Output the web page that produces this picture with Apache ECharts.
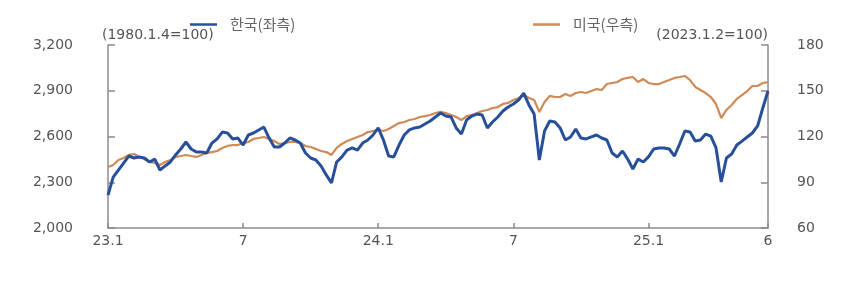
<!DOCTYPE html>
<html>
<head>
<meta charset="utf-8">
<script src="https://cdn.jsdelivr.net/npm/echarts@6/dist/echarts.min.js"></script>
<style>
html,body{margin:0;padding:0;background:#fff;}
#chart{width:860px;height:285px;}
</style>
</head>
<body>
<div id="chart"></div>
<script>
// Weekly observations starting 2023-01-02
const startDate = '2023-01-02';

// KOSPI (left axis, 1980.1.4=100)
const koreaIndex = [
  2216,2334,2380,2426,2472,2459,2466,2459,2433,2452,
  2380,2407,2433,2479,2518,2564,2518,2498,2498,2492,
  2557,2584,2629,2623,2584,2590,2544,2610,2623,2643,
  2662,2590,2531,2531,2557,2590,2577,2557,2492,2459,
  2446,2407,2348,2295,2433,2466,2511,2525,2511,2557,
  2577,2610,2656,2577,2472,2466,2544,2610,2643,2656,
  2662,2682,2702,2728,2754,2734,2728,2656,2616,2708,
  2734,2747,2741,2656,2695,2728,2767,2793,2813,2839,
  2885,2807,2747,2446,2636,2702,2695,2656,2577,2597,
  2649,2590,2584,2597,2610,2590,2577,2492,2466,2505,
  2452,2387,2452,2433,2466,2518,2525,2525,2518,2472,
  2551,2636,2629,2570,2577,2616,2603,2525,2302,2459,
  2485,2544,2570,2597,2623,2669,2787,2898
];

// S&P 500 (right axis, 2023.1.2=100)
const usIndex = [
  100.0,101.3,104.6,105.9,107.9,108.5,106.6,105.2,103.3,102.6,
  101.3,103.3,104.6,106.6,107.2,107.9,107.2,106.6,107.9,109.2,
  109.8,110.5,112.5,113.8,114.4,114.4,115.7,116.4,118.4,119.0,
  119.7,118.4,117.0,115.1,115.7,116.4,116.4,115.7,113.8,113.1,
  111.8,110.5,109.8,107.9,112.5,115.1,117.0,118.4,119.7,121.0,
  122.9,123.6,124.3,123.6,124.9,126.9,128.8,129.5,130.8,131.5,
  132.8,133.4,134.1,135.4,136.1,135.4,134.1,132.8,130.8,133.4,
  134.1,135.4,136.7,137.4,138.7,139.3,141.3,142.0,143.9,145.2,
  147.2,145.2,143.9,136.1,142.6,146.6,145.9,145.9,147.9,146.6,
  148.5,149.2,148.5,149.8,151.1,150.5,154.4,155.1,155.7,157.7,
  158.4,159.0,155.7,157.7,155.1,154.4,154.4,155.7,157.0,158.4,
  159.0,159.7,157.0,152.5,150.5,148.5,145.9,141.3,132.1,137.4,
  140.7,144.6,147.2,149.8,153.1,153.1,155.1,155.7
];

const seriesNames = ['한국(좌측)', '미국(우측)'];
const axisNames = ['(1980.1.4=100)', '(2023.1.2=100)'];
const tickDates = ['2023-01-02','2023-07-03','2024-01-01','2024-07-01','2024-12-30','2025-06-09'];
const tickLabels = ['23.1','7','24.1','7','25.1','6'];

// build weekly date categories
const categories = [];
{
  const d0 = new Date(startDate + 'T00:00:00Z');
  for (let i = 0; i < koreaIndex.length; i++) {
    const d = new Date(d0.getTime() + i * 7 * 86400000);
    categories.push(d.toISOString().slice(0, 10));
  }
}
const labelMap = {};
tickDates.forEach((d, i) => { labelMap[d] = tickLabels[i]; });

const BLUE = '#28509a';
const ORANGE = '#cf8a57';
const AXIS = '#8c8c8c';
const TXT = '#555555';
const NUMFONT = 'DejaVu Sans, Noto Sans CJK KR, sans-serif';
const KRFONT = 'Noto Sans CJK KR, sans-serif';

const chart = echarts.init(document.getElementById('chart'), null, {renderer: 'canvas'});
chart.setOption({
  animation: false,
  backgroundColor: '#ffffff',
  legend: [
    {
      data: [seriesNames[0]], left: 185, top: 12,
      icon: 'rect', itemWidth: 27, itemHeight: 2.5,
      textStyle: {color: '#666', fontSize: 15, fontFamily: KRFONT, padding: [0, 0, 0, 8]}
    },
    {
      data: [seriesNames[1]], left: 528, top: 12,
      icon: 'rect', itemWidth: 27, itemHeight: 2.5,
      textStyle: {color: '#666', fontSize: 15, fontFamily: KRFONT, padding: [0, 0, 0, 8]}
    }
  ],
  grid: {left: 108, right: 92, top: 45, bottom: 57, containLabel: false},
  xAxis: {
    type: 'category',
    data: categories,
    boundaryGap: false,
    axisLine: {show: true, lineStyle: {color: AXIS, width: 1.5}},
    axisTick: {
      show: true, inside: true, length: 5,
      interval: (idx, val) => labelMap[val] !== undefined,
      lineStyle: {color: AXIS, width: 1.5}
    },
    axisLabel: {
      interval: (idx, val) => labelMap[val] !== undefined,
      formatter: (val) => labelMap[val] || '',
      color: TXT, fontSize: 14, fontFamily: NUMFONT, margin: 6,
      showMinLabel: true, showMaxLabel: true
    },
    splitLine: {show: false}
  },
  yAxis: [
    {
      type: 'value', min: 2000, max: 3200, interval: 300, position: 'left',
      name: axisNames[0], nameLocation: 'end', nameGap: 3,
      nameTextStyle: {color: TXT, fontSize: 14, fontFamily: NUMFONT, align: 'left', padding: [0, 0, 0, -6]},
      axisLine: {show: true, lineStyle: {color: AXIS, width: 1.5}},
      axisTick: {show: true, inside: true, length: 7, lineStyle: {color: AXIS, width: 1.5}},
      axisLabel: {
        color: TXT, fontSize: 14, fontFamily: NUMFONT, margin: 35,
        formatter: (v) => v.toLocaleString('en-US')
      },
      splitLine: {show: false}
    },
    {
      type: 'value', min: 60, max: 180, interval: 30, position: 'right',
      name: axisNames[1], nameLocation: 'end', nameGap: 3,
      nameTextStyle: {color: TXT, fontSize: 14, fontFamily: NUMFONT, align: 'right', padding: [0, 0, 0, 0]},
      axisLine: {show: true, lineStyle: {color: AXIS, width: 1.5}},
      axisTick: {show: true, inside: true, length: 7, lineStyle: {color: AXIS, width: 1.5}},
      axisLabel: {color: TXT, fontSize: 14, fontFamily: NUMFONT, margin: 29},
      splitLine: {show: false}
    }
  ],
  series: [
    {
      name: seriesNames[1], type: 'line', yAxisIndex: 1, data: usIndex,
      showSymbol: false, symbol: 'none', smooth: false,
      lineStyle: {color: ORANGE, width: 2.2}, itemStyle: {color: ORANGE}, z: 2
    },
    {
      name: seriesNames[0], type: 'line', yAxisIndex: 0, data: koreaIndex,
      showSymbol: false, symbol: 'none', smooth: false,
      lineStyle: {color: BLUE, width: 3}, itemStyle: {color: BLUE}, z: 3
    }
  ]
});
</script>
</body>
</html>
